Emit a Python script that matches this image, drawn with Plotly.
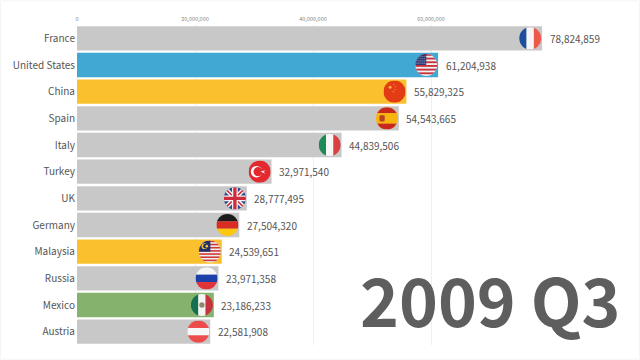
import base64
import plotly.graph_objects as go

countries = ["France", "United States", "China", "Spain", "Italy", "Turkey", "UK", "Germany",
             "Malaysia", "Russia", "Mexico", "Austria"]
values = [78824859, 61204938, 55829325, 54543665, 44839506, 32971540, 28777495, 27504320,
          24539651, 23971358, 23186233, 22581908]
bar_colors = ["#c8c8c8", "#41a7d3", "#fbc02d", "#c8c8c8", "#c8c8c8", "#c8c8c8", "#c8c8c8", "#c8c8c8",
              "#fbc02d", "#c8c8c8", "#85b26c", "#c8c8c8"]
tick_values = [0, 20000000, 40000000, 60000000]
period_label = "2009 Q3"


def stripes_h(cols):
    h = 100 / len(cols)
    return "".join(f'<rect x="0" y="{i*h}" width="100" height="{h+0.5}" fill="{c}"/>' for i, c in enumerate(cols))


def stripes_v(cols):
    w = 100 / len(cols)
    return "".join(f'<rect x="{i*w}" y="0" width="{w+0.5}" height="100" fill="{c}"/>' for i, c in enumerate(cols))


def us_like(stripe, n, canton, canton_w, canton_h, dot):
    h = 100 / n
    s = '<rect width="100" height="100" fill="#f0f0f0"/>'
    for i in range(0, n, 2):
        s += f'<rect y="{i*h}" width="100" height="{h}" fill="{stripe}"/>'
    s += f'<rect width="{canton_w}" height="{canton_h}" fill="{canton}"/>'
    s += dot
    return s


us_dots = "".join(f'<circle cx="{8+x*9}" cy="{12+y*8}" r="2" fill="#fff"/>' for x in range(5) for y in range(5))
flags = {
    "France": stripes_v(["#1f4f9c", "#f6f6f6", "#ee5a4a"]),
    "United States": us_like("#c8313e", 12, "#2d3a78", 50, 50, us_dots),
    "China": '<rect width="100" height="100" fill="#e33b14"/>'
             '<circle cx="30" cy="30" r="7" fill="#f3b33a"/><circle cx="47" cy="17" r="2.5" fill="#f3b33a"/>'
             '<circle cx="54" cy="28" r="2.5" fill="#f3b33a"/><circle cx="52" cy="41" r="2.5" fill="#f3b33a"/>'
             '<circle cx="44" cy="50" r="2.5" fill="#f3b33a"/>',
    "Spain": '<rect width="100" height="100" fill="#f7b512"/><rect width="100" height="26" fill="#c9281f"/>'
             '<rect y="74" width="100" height="26" fill="#c9281f"/>'
             '<rect x="16" y="36" width="24" height="28" rx="6" fill="#b5451f"/>',
    "Italy": stripes_v(["#1f8a58", "#f6f6f6", "#d8413f"]),
    "Turkey": '<rect width="100" height="100" fill="#e52a2f"/><circle cx="36" cy="50" r="26" fill="#fff"/>'
              '<circle cx="43" cy="50" r="21" fill="#e52a2f"/>'
              '<path d="M54 50 L76 42 L68 50 L76 58 Z" fill="#fff"/>',
    "UK": '<rect width="100" height="100" fill="#2b4a8e"/>'
          '<path d="M0 0 L100 100 M100 0 L0 100" stroke="#f3f3f3" stroke-width="20"/>'
          '<path d="M0 0 L100 100 M100 0 L0 100" stroke="#cf2b3d" stroke-width="7"/>'
          '<path d="M50 0 V100 M0 50 H100" stroke="#f3f3f3" stroke-width="26"/>'
          '<path d="M50 0 V100 M0 50 H100" stroke="#cf2b3d" stroke-width="15"/>',
    "Germany": stripes_h(["#1c1c1c", "#d92c22", "#fbc70f"]),
    "Malaysia": us_like("#cf3a36", 14, "#1f2f70", 52, 50,
                        '<circle cx="25" cy="25" r="13" fill="#f5c62e"/><circle cx="30" cy="25" r="11" fill="#1f2f70"/>'
                        '<circle cx="36" cy="25" r="6" fill="#f5c62e"/>'),
    "Russia": stripes_h(["#f6f6f6", "#1c3fa8", "#e0333a"]),
    "Mexico": stripes_v(["#14704e", "#f4f4f4", "#c7323c"]) +
              '<circle cx="50" cy="50" r="12" fill="#8d8a6a"/>',
    "Austria": stripes_h(["#ee4b4b", "#f6f6f6", "#ee4b4b"]),
}


def flag_uri(body):
    svg = ('<svg xmlns="http://www.w3.org/2000/svg" width="100" height="100" viewBox="0 0 100 100">'
           '<defs><clipPath id="c"><circle cx="50" cy="50" r="50"/></clipPath></defs>'
           f'<g clip-path="url(#c)">{body}</g></svg>')
    return "data:image/svg+xml;base64," + base64.b64encode(svg.encode()).decode()


FONT = "Noto Sans CJK JP"
L, T, B = 77, 24.7, 14.7
PX_W = 640 - L
PX_H = 360 - T - B
X_MAX = PX_W / 5.9 * 1e6
fig = go.Figure(go.Bar(
    x=values, y=countries, orientation="h", marker=dict(color=bar_colors, line_width=0),
    width=0.91,
))

images = []
value_notes = []
for c, v in zip(countries, values):
    images.append(dict(source=flag_uri(flags[c]), xref="x", yref="y", x=v - 0.15e6, y=c,
                       sizex=22 / 5.9 * 1e6, sizey=0.83, xanchor="right", yanchor="middle",
                       sizing="stretch", layer="above"))
    value_notes.append(dict(text=f"{v:,}", x=v, y=c, xref="x", yref="y", xanchor="left", yanchor="middle",
                            xshift=5.5, showarrow=False, font=dict(family=FONT, size=10, color="#555555")))

frame = dict(type="rect", xref="paper", yref="paper", layer="below",
             x0=0.5 / PX_W - L / PX_W, x1=1 - 0.5 / PX_W,
             y0=(0.5 - B) / PX_H, y1=(360 - 0.5 - B) / PX_H,
             line=dict(color="#f4f4f4", width=1))

fig.update_layout(
    width=640, height=360, autosize=False,
    margin=dict(l=L, r=0, t=T, b=B),
    paper_bgcolor="#ffffff", plot_bgcolor="#ffffff", showlegend=False,
    images=images, shapes=[frame],
    xaxis=dict(range=[0, X_MAX], side="top", tickvals=tick_values, tickformat=",d",
               tickfont=dict(family=FONT, size=5.5, color="#888888"),
               showgrid=True, gridcolor="#efefef", gridwidth=1, zeroline=False,
               showline=False, ticks="", ticklabelstandoff=2),
    yaxis=dict(categoryorder="array", categoryarray=countries, autorange="reversed",
               tickfont=dict(family=FONT, size=10, color="#555555"),
               showgrid=False, zeroline=False, showline=False, ticks="", ticklabelstandoff=1),
    annotations=value_notes + [
        dict(text=f"<b>{period_label}</b>", xref="paper", yref="paper", x=(623 - L) / PX_W,
             y=(360 - B - 298) / PX_H, xanchor="right", yanchor="middle",
             showarrow=False, font=dict(family=FONT, size=66, color="#5e5e5e"))],
)
fig.write_html("out.html", config={"displayModeBar": False},
               post_script="document.body.style.margin='0';document.documentElement.style.overflow='hidden';")
